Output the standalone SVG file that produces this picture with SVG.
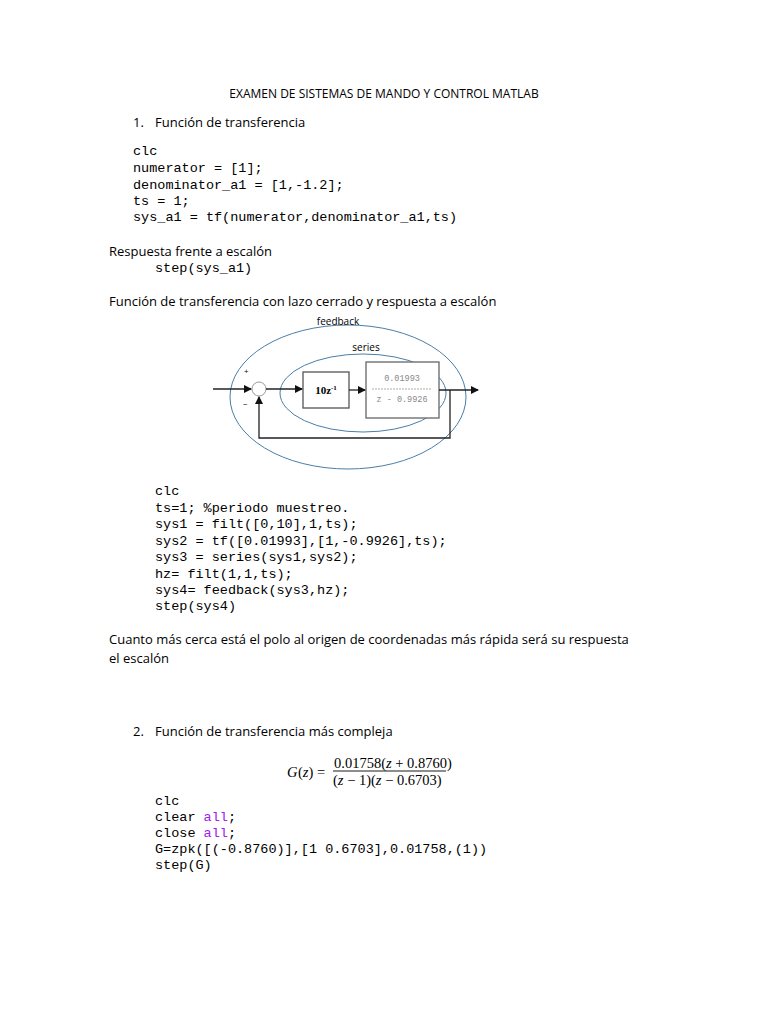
<svg xmlns="http://www.w3.org/2000/svg" width="768" height="1024" viewBox="0 0 768 1024">
<style>
.t{font-family:"Open Sans","Liberation Sans",sans-serif;font-size:13px;fill:#000}
.c{font-family:"Liberation Mono",monospace;font-size:13.5px;fill:#000}
.k{fill:#a020f0}
.s{font-family:"Liberation Serif",serif;fill:#000}
.ln{stroke:#222;stroke-width:1.3;fill:none}
.el{stroke:#4a7ea8;stroke-width:1;fill:none}
.sm{font-family:"Liberation Mono",monospace;font-size:8.5px;fill:#888}
</style>
<defs><marker id="a" markerWidth="8" markerHeight="8" refX="7" refY="4" orient="auto" markerUnits="userSpaceOnUse"><path d="M0,0L8,4L0,8z" fill="#111"/></marker></defs>
<rect width="768" height="1024" fill="#fff"/>
<text class="t" x="384" y="98" text-anchor="middle" style="font-size:12px">EXAMEN DE SISTEMAS DE MANDO Y CONTROL MATLAB</text>
<text class="t" x="133" y="127">1.</text><text class="t" x="155" y="127">Función de transferencia</text>
<text class="c" x="133" y="155">clc</text>
<text class="c" x="133" y="172">numerator = [1];</text>
<text class="c" x="133" y="189">denominator_a1 = [1,-1.2];</text>
<text class="c" x="133" y="205">ts = 1;</text>
<text class="c" x="133" y="221">sys_a1 = tf(numerator,denominator_a1,ts)</text>
<text class="t" x="109" y="256">Respuesta frente a escalón</text>
<text class="c" x="155" y="272">step(sys_a1)</text>
<text class="t" x="109" y="306">Función de transferencia con lazo cerrado y respuesta a escalón</text>
<g id="diagram">
<g id="feedback"><ellipse class="el" cx="348" cy="397" rx="118" ry="72"/><text class="t" x="338" y="325" text-anchor="middle" style="font-size:10px">feedback</text></g>
<g id="series"><ellipse class="el" cx="363" cy="393" rx="83" ry="39"/><text class="t" x="366" y="351" text-anchor="middle" style="font-size:10px">series</text></g>
<g id="sum"><circle cx="259" cy="389" r="7" fill="#fff" stroke="#999"/><text class="t" x="244" y="374" style="font-size:8px">+</text><text class="t" x="243" y="407" style="font-size:8px">−</text></g>
<g id="block1"><rect x="303" y="372" width="46" height="36" fill="#fff" stroke="#555" stroke-width="1.3"/><text class="s" x="326" y="394" text-anchor="middle" font-size="11" font-weight="bold">10z<tspan font-size="7" dy="-4">-1</tspan></text></g>
<g id="block2"><rect x="366" y="362" width="73" height="56" fill="#fff" stroke="#666" stroke-width="1.3"/><text class="sm" x="402" y="381" text-anchor="middle">0.01993</text><line x1="372" y1="389" x2="432" y2="389" stroke="#999" stroke-dasharray="2,1" stroke-width="0.8"/><text class="sm" x="402" y="402" text-anchor="middle">z - 0.9926</text></g>
<g id="connectors">
<line class="ln" x1="213" y1="389" x2="251" y2="389" marker-end="url(#a)"/>
<line class="ln" x1="266" y1="389" x2="302" y2="389" marker-end="url(#a)"/>
<line class="ln" x1="349" y1="390" x2="365" y2="390" marker-end="url(#a)"/>
<line class="ln" x1="439" y1="390" x2="478" y2="390" marker-end="url(#a)"/>
<polyline class="ln" points="450,390 450,438 259,438 259,397" marker-end="url(#a)"/>
</g>
</g>
<text class="c" x="155" y="495">clc</text>
<text class="c" x="155" y="512">ts=1; %periodo muestreo.</text>
<text class="c" x="155" y="528">sys1 = filt([0,10],1,ts);</text>
<text class="c" x="155" y="545">sys2 = tf([0.01993],[1,-0.9926],ts);</text>
<text class="c" x="155" y="561">sys3 = series(sys1,sys2);</text>
<text class="c" x="155" y="578">hz= filt(1,1,ts);</text>
<text class="c" x="155" y="594">sys4= feedback(sys3,hz);</text>
<text class="c" x="155" y="610">step(sys4)</text>
<text class="t" x="109" y="644">Cuanto más cerca está el polo al origen de coordenadas más rápida será su respuesta</text>
<text class="t" x="109" y="663">el escalón</text>
<text class="t" x="133" y="736">2.</text><text class="t" x="155" y="736">Función de transferencia más compleja</text>
<g class="s" font-size="14.5">
<text x="287" y="777" font-style="italic">G</text><text x="298" y="777">(<tspan font-style="italic">z</tspan>) =</text>
<text x="334" y="768">0.01758(<tspan font-style="italic">z</tspan> + 0.8760)</text>
<line x1="333" y1="771" x2="446" y2="771" stroke="#000" stroke-width="0.9"/>
<text x="333" y="785">(<tspan font-style="italic">z</tspan> − 1)(<tspan font-style="italic">z</tspan> − 0.6703)</text>
</g>
<text class="c" x="155" y="805">clc</text>
<text class="c" x="155" y="821">clear <tspan class="k">all</tspan>;</text>
<text class="c" x="155" y="837">close <tspan class="k">all</tspan>;</text>
<text class="c" x="155" y="853">G=zpk([(-0.8760)],[1 0.6703],0.01758,(1))</text>
<text class="c" x="155" y="869">step(G)</text>
</svg>
